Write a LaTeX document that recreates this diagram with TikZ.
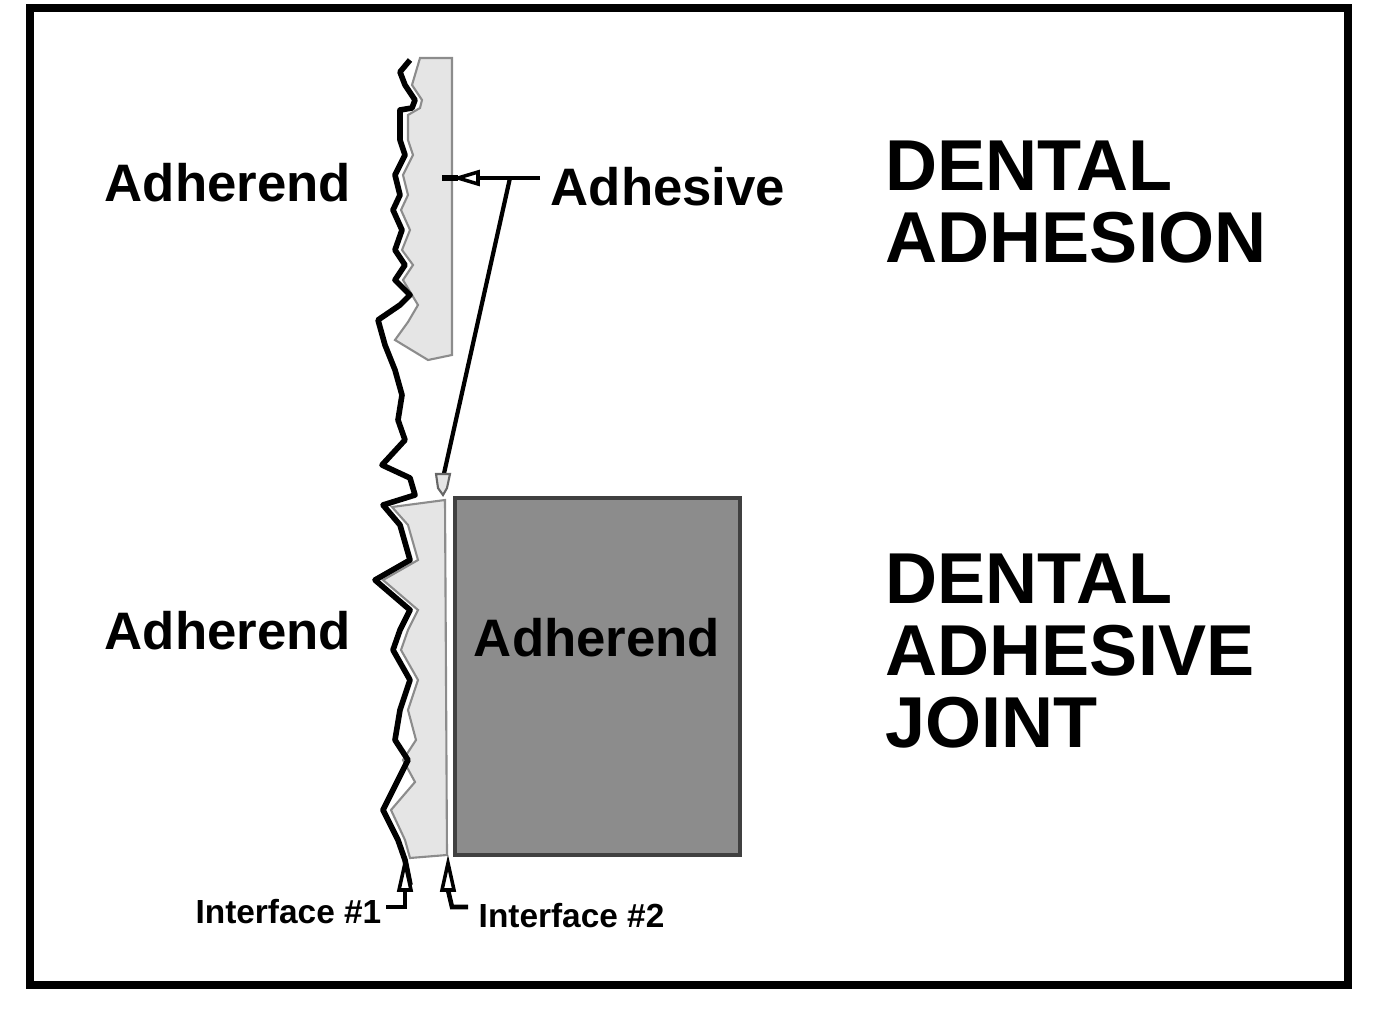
\documentclass[tikz,border=0pt]{standalone}
\usepackage{fontspec}
\setmainfont{Liberation Sans}
\begin{document}
\begin{tikzpicture}[x=0.01cm,y=-0.01cm,
  lbl/.style={font=\bfseries\fontsize{15}{16}\selectfont,inner sep=0},
  big/.style={font=\bfseries\fontsize{20.5}{20.5}\selectfont,align=left,inner sep=0,anchor=north west},
  small/.style={font=\bfseries\fontsize{9.5}{10}\selectfont,inner sep=0},
  tooth/.style={line width=1.6pt,line join=round},
  glue/.style={fill=black!10,draw=black!45,line width=0.6pt},
  openarr/.style={draw=black,fill=white,line width=1pt}]
\useasboundingbox (0,0) rectangle (1376,1013);
\draw[line width=2.2pt] (30,8) rectangle (1348,985);
% upper adhesive
\draw[glue] (420,58) -- (452,58) -- (452,355) -- (428,360) -- (395,340) -- (408,322) -- (418,305) -- (403,280) -- (413,265) -- (402,250) -- (410,230) -- (401,210) -- (408,195) -- (403,175) -- (413,155) -- (408,140) -- (408,115) -- (420,108) -- (422,100) -- (412,85) -- cycle;
% lower adhesive
\draw[glue] (392,507) -- (445,500) -- (447,855) -- (410,858) -- (405,840) -- (391,810) -- (415,782) -- (403,760) -- (416,740) -- (408,710) -- (418,680) -- (401,650) -- (408,630) -- (418,610) -- (383,580) -- (418,560) -- (408,525) -- cycle;
% second adherend
\node[draw=black!75,fill=black!45,line width=1pt,minimum width=285*0.01cm,minimum height=357*0.01cm,inner sep=0] (blk) at (597.5,676.5) {};
\node[lbl] (a3) at (597,638) {Adherend};
% tooth line
\draw[tooth] (410,60) -- (400,72) -- (405,85) -- (415,100) -- (412,108) -- (400,110) -- (400,140) -- (405,155) -- (395,175) -- (400,195) -- (393,210) -- (402,230) -- (395,250) -- (405,265) -- (395,280) -- (410,295) -- (400,305) -- (378,320) -- (385,345) -- (395,370) -- (402,395) -- (398,420) -- (405,440) -- (382,465) -- (410,478) -- (415,495) -- (383,505) -- (400,525) -- (410,560) -- (375,580) -- (410,610) -- (400,630) -- (393,650) -- (410,680) -- (400,710) -- (395,740) -- (408,760) -- (398,780) -- (383,810) -- (398,840) -- (405,860) -- (410,885);
% labels
\node[lbl] (a1) at (228,183) {Adherend};
\node[lbl] (a2) at (228,631) {Adherend};
\node[lbl,anchor=west] (adh) at (550,187) {Adhesive};
\node[big] (t1) at (885,140) {DENTAL\\ADHESION};
\node[big] (t2) at (885,553) {DENTAL\\ADHESIVE\\JOINT};
% adhesive pointer
\coordinate (p1) at (540,178);
\coordinate (p2) at (510,178);
\draw[line width=1.2pt] (p1) -- (470,178);
\draw[openarr] (478,172) -- (478,184) -- (458,178) -- cycle;
\fill (442,175) rectangle (458,181);
\draw[line width=1.2pt] (p2) -- (443,478);
\draw[fill=black!10,draw=black!60,line width=0.6pt] (436,474) -- (450,474) -- (447,488) -- (443,495) -- (438,488) -- cycle;
% interface pointers
\draw[openarr] (399,890) -- (411,890) -- (405,863) -- cycle;
\draw[openarr] (442,890) -- (454,890) -- (448,863) -- cycle;
\draw[line width=1.3pt] (405,890) -- (405,907) -- (386,907);
\draw[line width=1.3pt] (448,890) -- (452,907) -- (468,907);
\node[small,anchor=east] (i1) at (382,912) {Interface \#1};
\node[small,anchor=west] (i2) at (478,916) {Interface \#2};
\end{tikzpicture}
\end{document}
